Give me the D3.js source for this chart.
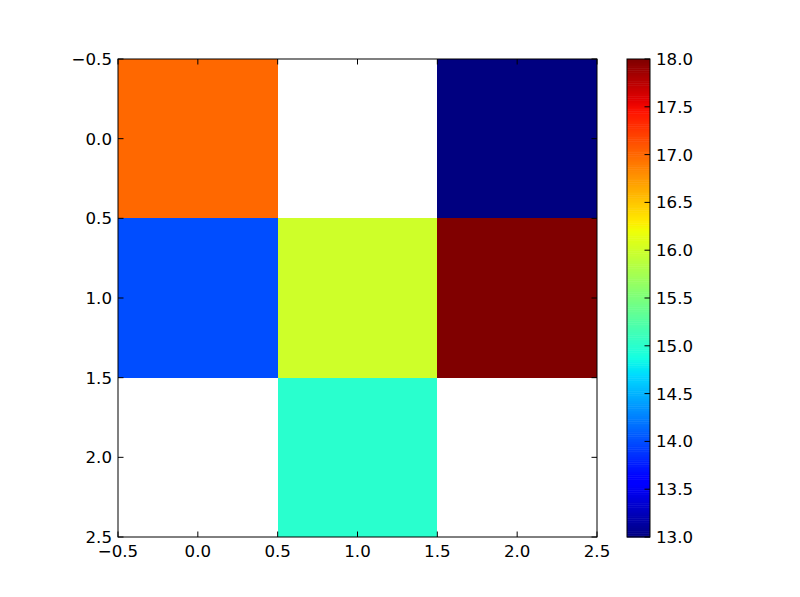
<!DOCTYPE html>
<html><head><meta charset="utf-8">
<script src="https://cdn.jsdelivr.net/npm/d3@7"></script>
<style>body{margin:0;background:#fff}text{font-family:"DejaVu Sans";font-size:16.67px;fill:#000}</style>
</head><body>
<svg id="c" width="800" height="597"></svg>
<script>
const rows = [0, 1, 2];
const cols = [0, 1, 2];
const values = [
  [17.0, NaN, 13.0],
  [14.0, 16.0, 18.0],
  [NaN, 15.0, NaN]
];
const axisTicks = [-0.5, 0.0, 0.5, 1.0, 1.5, 2.0, 2.5];
const cbarTicks = [13.0, 13.5, 14.0, 14.5, 15.0, 15.5, 16.0, 16.5, 17.0, 17.5, 18.0];
const vmin = 13, vmax = 18;

// matplotlib jet segment data
const jetR = [[0,0],[0.35,0],[0.66,1],[0.89,1],[1,0.5]];
const jetG = [[0,0],[0.125,0],[0.375,1],[0.64,1],[0.91,0],[1,0]];
const jetB = [[0,0.5],[0.11,1],[0.34,1],[0.65,0],[1,0]];
function seg(s, x){
  for(let i=1;i<s.length;i++){ if(x<=s[i][0]){const a=s[i-1],b=s[i];return a[1]+(b[1]-a[1])*(x-a[0])/(b[0]-a[0]);} }
  return s[s.length-1][1];
}
function jet(t){ t=Math.max(0,Math.min(1,t)); return d3.rgb(255*seg(jetR,t),255*seg(jetG,t),255*seg(jetB,t)).toString(); }

const svg = d3.select("#c");
const L=118, R=597, T=59, B=537;
const x = d3.scaleLinear().domain([-0.5,2.5]).range([L,R]);
const y = d3.scaleLinear().domain([-0.5,2.5]).range([T,B]);
const norm = d3.scaleLinear().domain([vmin,vmax]).range([0,1]);
const fmt = v => d3.format(".1f")(v).replace("-","\u2212");

const cells=[];
rows.forEach(r=>cols.forEach(c=>cells.push({r,c,v:values[r][c]})));
svg.append("g").selectAll("rect").data(cells.filter(d=>!isNaN(d.v))).join("rect")
  .attr("x",d=>x(d.c-0.5)).attr("y",d=>y(d.r-0.5))
  .attr("width",d=>x(d.c+0.5)-x(d.c-0.5)).attr("height",d=>y(d.r+0.5)-y(d.r-0.5))
  .attr("fill",d=>jet(norm(d.v))).attr("shape-rendering","crispEdges");

const tl=5.5;
const g=svg.append("g").attr("stroke","#000").attr("stroke-width",1);
axisTicks.forEach(t=>{
  g.append("line").attr("x1",x(t)).attr("x2",x(t)).attr("y1",B).attr("y2",B-tl);
  g.append("line").attr("x1",x(t)).attr("x2",x(t)).attr("y1",T).attr("y2",T+tl);
  g.append("line").attr("y1",y(t)).attr("y2",y(t)).attr("x1",L).attr("x2",L+tl);
  g.append("line").attr("y1",y(t)).attr("y2",y(t)).attr("x1",R).attr("x2",R-tl);
});
svg.append("rect").attr("x",L).attr("y",T).attr("width",R-L).attr("height",B-T)
  .attr("fill","none").attr("stroke","#000").attr("stroke-width",1);
svg.append("g").selectAll("text").data(axisTicks).join("text")
  .attr("x",d=>x(d)).attr("y",B+20).attr("text-anchor","middle").text(fmt);
svg.append("g").selectAll("text").data(axisTicks).join("text")
  .attr("x",L-6).attr("y",d=>y(d)+6).attr("text-anchor","end").text(fmt);

// colorbar
const CL=627, CR=650;
const cy = d3.scaleLinear().domain([vmin,vmax]).range([B,T]);
const steps = d3.range(256);
svg.append("g").selectAll("rect").data(steps).join("rect")
  .attr("x",CL).attr("width",CR-CL)
  .attr("y",i=>cy(vmin+(vmax-vmin)*(i+1)/256)).attr("height",i=>cy(vmin+(vmax-vmin)*i/256)-cy(vmin+(vmax-vmin)*(i+1)/256)+0.5)
  .attr("fill",i=>jet((i+0.5)/256));
const cg=svg.append("g").attr("stroke","#000");
cbarTicks.forEach(t=>{cg.append("line").attr("x1",CR).attr("x2",CR-tl).attr("y1",cy(t)).attr("y2",cy(t));});
svg.append("rect").attr("x",CL).attr("y",T).attr("width",CR-CL).attr("height",B-T)
  .attr("fill","none").attr("stroke","#000").attr("stroke-width",1);
svg.append("g").selectAll("text").data(cbarTicks).join("text")
  .attr("x",CR+6).attr("y",d=>cy(d)+6).attr("text-anchor","start").text(fmt);
</script>
</body></html>
